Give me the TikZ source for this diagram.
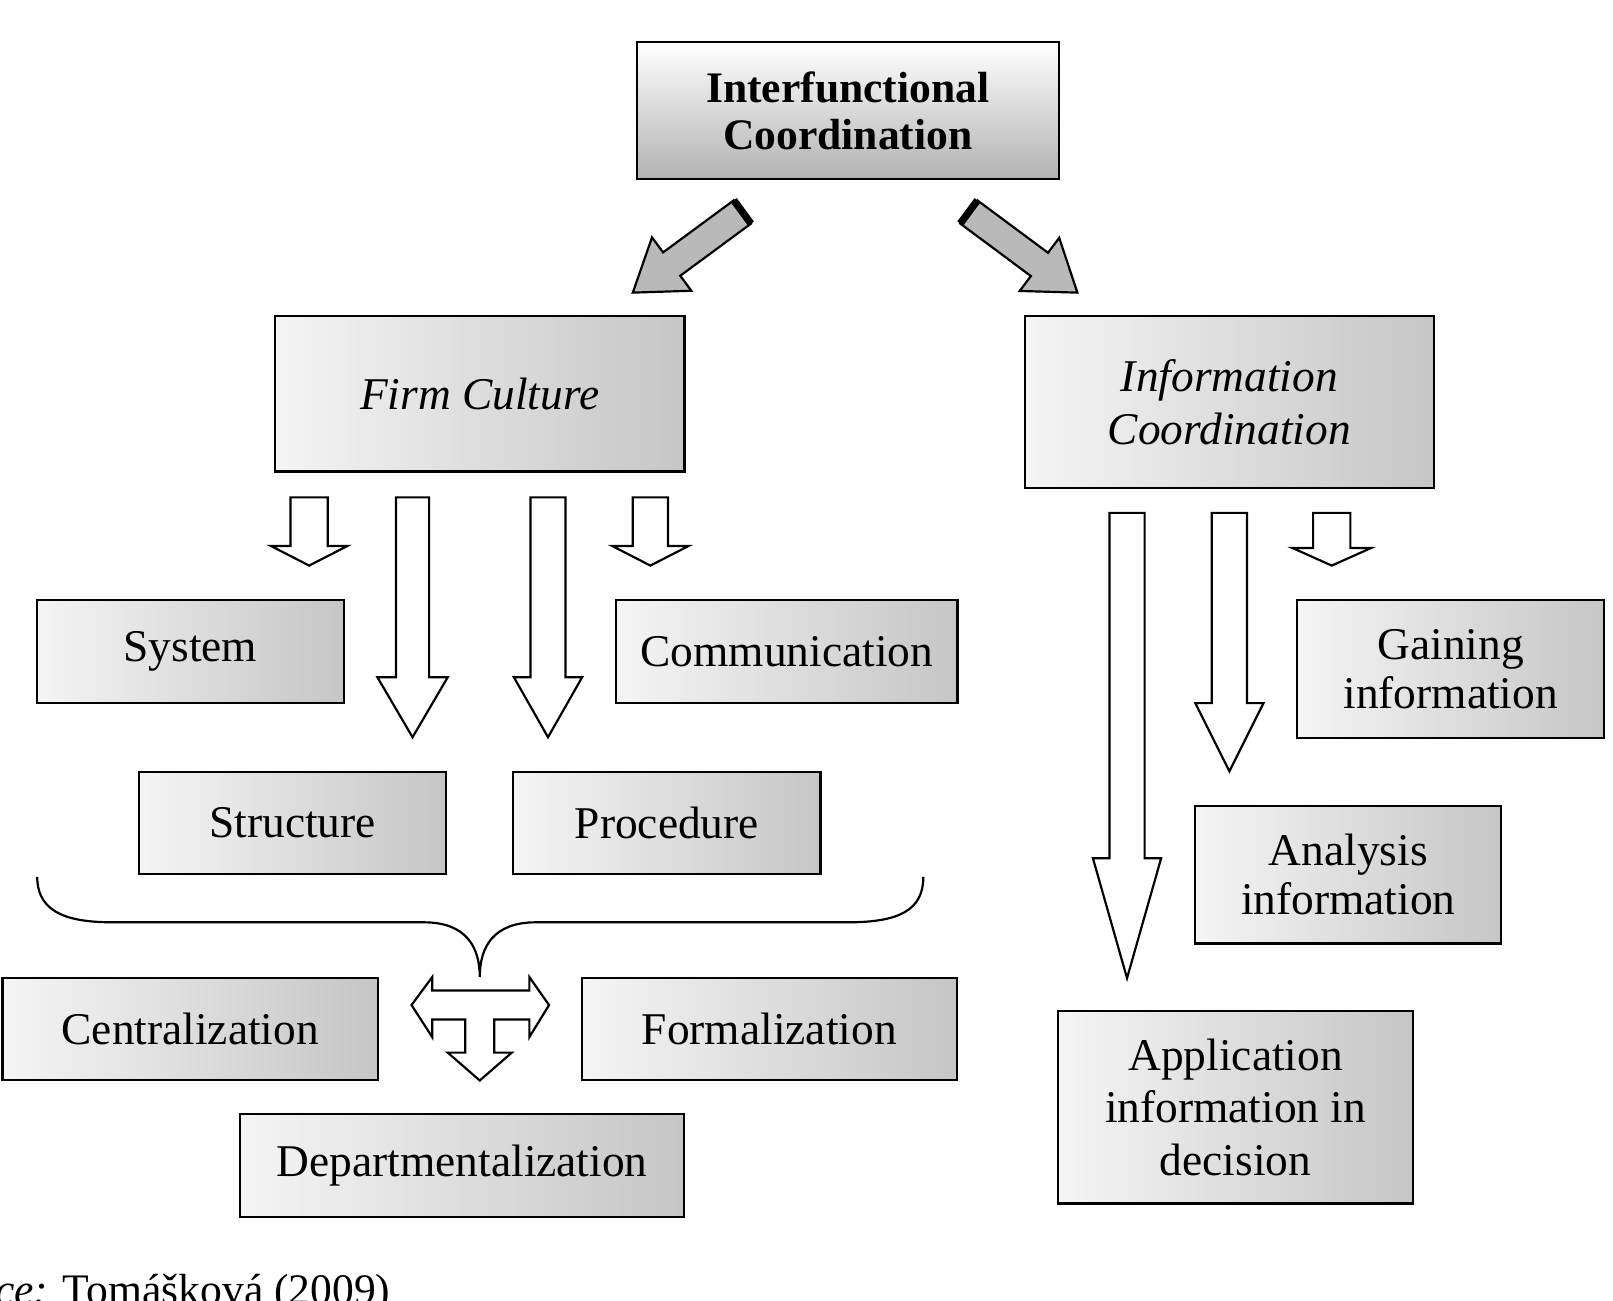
\documentclass[tikz,border=0pt]{standalone}
\usepackage{fontspec}
\setmainfont{Liberation Serif}
\begin{document}
\begin{tikzpicture}[x=0.02cm,y=-0.02cm]
    \tikzstyle{box}=[draw=black,line width=1.2pt,left color=gray!8,right color=gray!45,font=\fontsize{25}{27}\selectfont,align=center,inner sep=0pt]
    \tikzstyle{top}=[draw=black,line width=1.2pt,top color=white,bottom color=gray!60,font=\bfseries\fontsize{24}{26}\selectfont,align=center,inner sep=0pt]
    \tikzstyle{blk}=[draw=black,line width=1.2pt,fill=white,line join=miter]
    \tikzstyle{diag}=[draw=black,line width=1.2pt,fill=gray!55]
    \tikzstyle{brace}=[draw=black,line width=1.2pt]

    % down block arrow: x, ytop, shaft half, head half, yhead, ytip
    \newcommand\downblk[6]{\draw[blk] (#1-#3,#2) -- (#1+#3,#2) -- (#1+#3,#5) -- (#1+#4,#5) -- (#1,#6) -- (#1-#4,#5) -- (#1-#3,#5) -- cycle;}

    \useasboundingbox (0,0) rectangle (1560,1258);

    \node[top, minimum width=408*0.02cm, minimum height=132*0.02cm] (ifc) at (820,107) {Interfunctional\\Coordination};
    \node[box, minimum width=396*0.02cm, minimum height=150*0.02cm, font=\itshape\fontsize{25}{27}\selectfont] (fc) at (464,381) {\raisebox{-0.3cm}{Firm Culture}};
    \node[box, minimum width=396*0.02cm, minimum height=166*0.02cm, font=\itshape\fontsize{25}{29}\selectfont] (ic) at (1189,389) {Information\\Coordination};

    \node[box, minimum width=297*0.02cm, minimum height=100*0.02cm] (sys) at (184,630) {System};
    \node[box, minimum width=330*0.02cm, minimum height=100*0.02cm] (com) at (761,630) {Communication};
    \node[box, minimum width=297*0.02cm, minimum height=99*0.02cm] (str) at (283,796) {Structure};
    \node[box, minimum width=297*0.02cm, minimum height=99*0.02cm] (pro) at (645,796) {Procedure};
    \node[box, minimum width=363*0.02cm, minimum height=99*0.02cm] (cen) at (184,995) {Centralization};
    \node[box, minimum width=363*0.02cm, minimum height=99*0.02cm] (for) at (744,995) {Formalization};
    \node[box, minimum width=429*0.02cm, minimum height=100*0.02cm] (dep) at (447,1127) {Departmentalization};

    \node[box, minimum width=297*0.02cm, minimum height=133*0.02cm] (gai) at (1403,647) {Gaining\\information};
    \node[box, minimum width=296*0.02cm, minimum height=133*0.02cm] (ana) at (1304,846) {Analysis\\information};
    \node[box, minimum width=343*0.02cm, minimum height=186*0.02cm, font=\fontsize{25}{29}\selectfont] (app) at (1195,1071) {Application\\information in\\decision};

    \node[anchor=base east, font=\fontsize{24}{26}\selectfont, inner sep=0pt] (src) at (378,1262) {\textit{Source:} Tomášková (2009)};

    % gray arrows from the top box
    \draw[diag] (726.3,216.3) -- (657.9,266.7) -- (668.6,281.2) -- (612,283) -- (630.6,229.6) -- (641.3,244.1) -- (709.7,193.7) -- cycle;
    \draw[diag] (928.7,216.2) -- (997,267) -- (986.2,281.4) -- (1042,283) -- (1024.4,230) -- (1013.6,244.5) -- (945.3,193.8) -- cycle;
    \draw[line width=4pt] (726.3,216.3) -- (709.7,193.7);
    \draw[line width=4pt] (928.7,216.2) -- (945.3,193.8);

    % white arrows
    \downblk{299}{481}{18}{37}{528}{547}
    \downblk{399}{481}{16}{34}{655}{713}
    \downblk{530}{481}{17}{33}{655}{713}
    \downblk{629}{481}{17}{37}{528}{547}
    \downblk{1090}{496}{17}{33}{830}{946}
    \downblk{1189}{496}{17}{33}{680}{746}
    \downblk{1288}{496}{18}{38}{530}{547}

    % brace and three-way arrow
    \draw[brace] (36,848) .. controls (36,885) and (70,892) .. (110,892) -- (410,892) .. controls (450,892) and (464,915) .. (464,945) .. controls (464,915) and (478,892) .. (518,892) -- (820,892) .. controls (870,892) and (893,880) .. (893,848);
    \draw[blk] (418,945) -- (418,958) -- (512,958) -- (512,945) -- (531,972) -- (512,1003) -- (512,986) -- (478,986) -- (478,1018) -- (495,1018) -- (464,1045) -- (433,1018) -- (450,1018) -- (450,986) -- (418,986) -- (418,1003) -- (398,972) -- cycle;
\end{tikzpicture}
\end{document}
